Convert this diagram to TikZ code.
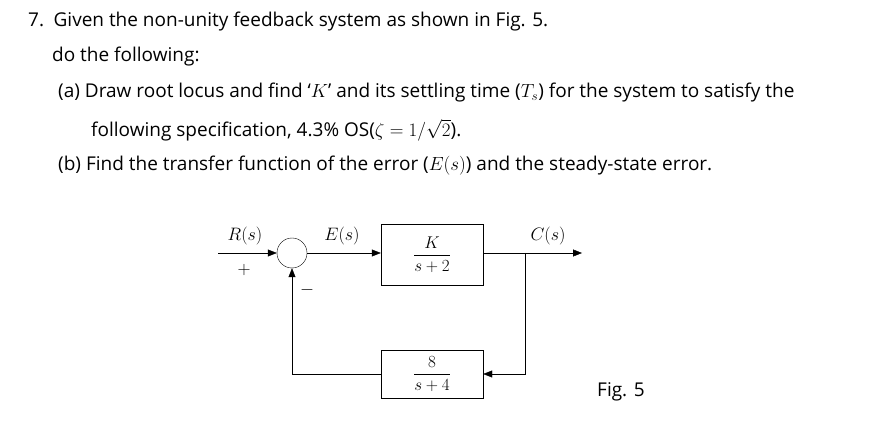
\RequirePackage{fix-cm}
\documentclass[tikz,border=0pt]{standalone}
\usepackage{amsmath}
\usepackage{fontspec}
\setmainfont{Open Sans}
\usetikzlibrary{arrows.meta}
\begin{document}
\begin{tikzpicture}[x=1pt,y=-1pt,
  txt/.style={anchor=west,inner sep=0pt,font=\fontsize{19}{22}\selectfont},
  blk/.style={draw,minimum width=102pt,inner sep=0pt},
  arr/.style={-{Triangle[length=9pt,width=7pt]}},
  lab/.style={inner sep=0pt,font=\fontsize{18}{21}\selectfont}]
\useasboundingbox (0,0) rectangle (883,427);
\node[txt] (l1) at (28,22) {7.\enspace Given the non-unity feedback system as shown in Fig. 5.};
\node[txt] (l2) at (52,57) {do the following:};
\node[txt] (l3) at (58,93) {(a) Draw root locus and find `$K$' and its settling time ($T_s$) for the system to satisfy the};
\node[txt] (l4) at (91,130) {following specification, 4.3\% OS($\zeta=1/\sqrt{2}$).};
\node[txt] (l5) at (58,166) {(b) Find the transfer function of the error ($E(s)$) and the steady-state error.};

\node[draw,circle,minimum size=30pt,inner sep=0pt] (sum) at (292,253) {};
\coordinate (in) at (218,253);
\node[blk,minimum height=61pt,font=\fontsize{17}{20}\selectfont] (g) at (432,254.5) {$\dfrac{K}{s+2}$};
\node[blk,minimum height=48pt,font=\fontsize{17}{20}\selectfont] (h) at (432,374) {$\dfrac{8}{s+4}$};
\coordinate (br) at (525,253);
\coordinate (out) at (582,253);
\draw[arr] (in) -- (sum.west);
\draw[arr] (sum.east) -- (g.west |- sum);
\draw (g.east |- br) -- (br);
\draw[arr] (br) -- (out);
\draw[arr] (br) |- (h.east);
\draw[arr] (h.west) -| (sum.south);
\node[lab] (R) at (245,236) {$R(s)$};
\node[lab] (p) at (244,270) {$+$};
\node[lab] (m) at (307,290) {$-$};
\node[lab] (E) at (342,236) {$E(s)$};
\node[lab] (C) at (548,236) {$C(s)$};
\node[txt] (fig) at (597,392) {Fig. 5};
\end{tikzpicture}
\end{document}
